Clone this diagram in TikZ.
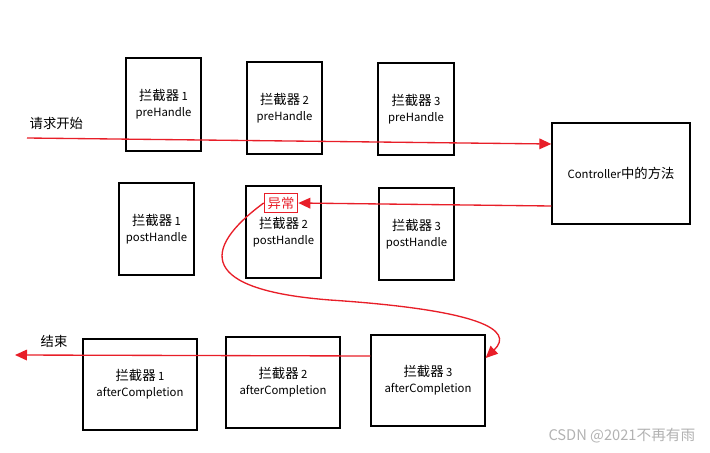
\documentclass[tikz,border=0pt]{standalone}
\usepackage{fontspec}
\setmainfont{Noto Sans CJK SC}
\usetikzlibrary{arrows.meta}
\definecolor{rd}{RGB}{232,30,40}
\begin{document}
\begin{tikzpicture}[x=0.75pt,y=-0.75pt,
  box/.style={draw,line width=1pt,fill=white,align=center,font=\fontsize{8.5}{12}\selectfont},
  red arrow/.style={draw=rd,line width=1pt,-{Triangle[length=9pt,width=8pt]}}]
\useasboundingbox (0,0) rectangle (710,453);
\newcommand\bx[6]{\node[box,minimum width=#4*0.75pt-#2*0.75pt,minimum height=#5*0.75pt-#3*0.75pt] (#1) at ({(#2+#4)/2},{(#3+#5)/2}) {#6};}
\newcommand\lj{{\fontsize{10}{12}\selectfont 拦截器}}
\bx{pre1}{126}{58}{201}{151}{\lj\ 1\\preHandle}
\bx{pre2}{247}{62}{322}{154}{\lj\ 2\\preHandle}
\bx{pre3}{378}{63}{454}{155}{\lj\ 3\\preHandle}
\bx{ctrl}{552}{123}{690}{224}{Controller{\fontsize{10}{12}\selectfont 中的方法}}
\bx{post1}{119}{183}{194}{275}{\lj\ 1\\postHandle}
\bx{post2}{246}{186}{321}{278}{\lj\ 2\\postHandle}
\bx{post3}{379}{188}{454}{280}{\lj\ 3\\postHandle}
\bx{aft1}{83}{339}{197}{430}{\lj\ 1\\afterCompletion}
\bx{aft2}{226}{337}{340}{428}{\lj\ 2\\afterCompletion}
\bx{aft3}{371}{335}{485}{426}{\lj\ 3\\afterCompletion}
\node[draw=rd,line width=1pt,fill=white,text=rd,inner sep=2.5pt,font=\fontsize{10}{12}\selectfont] (exc) at (281,203) {异常};
\coordinate (start) at (27,138);
\coordinate (endp) at (15,355);
\node[anchor=south west,font=\fontsize{10}{12}\selectfont] (lstart) at (25,134) {请求开始};
\node[anchor=south west,font=\fontsize{10}{12}\selectfont] (lend) at (36,352) {结束};
\draw[red arrow] (start) -- (ctrl.west |- 0,144);
\draw[red arrow] (ctrl.west |- 0,206) -- (exc.east);
\draw[red arrow] (exc.west) .. controls (200,250) and (200,290) .. (330,300) .. controls (480,310) and (515,330) .. (aft3.east |- 0,358);
\draw[red arrow] (aft3.west |- 0,356) -- (endp);
\node[text=gray!60,font=\fontsize{11}{13}\selectfont,anchor=east] (wm) at (700,436) {CSDN @2021不再有雨};
\end{tikzpicture}
\end{document}
